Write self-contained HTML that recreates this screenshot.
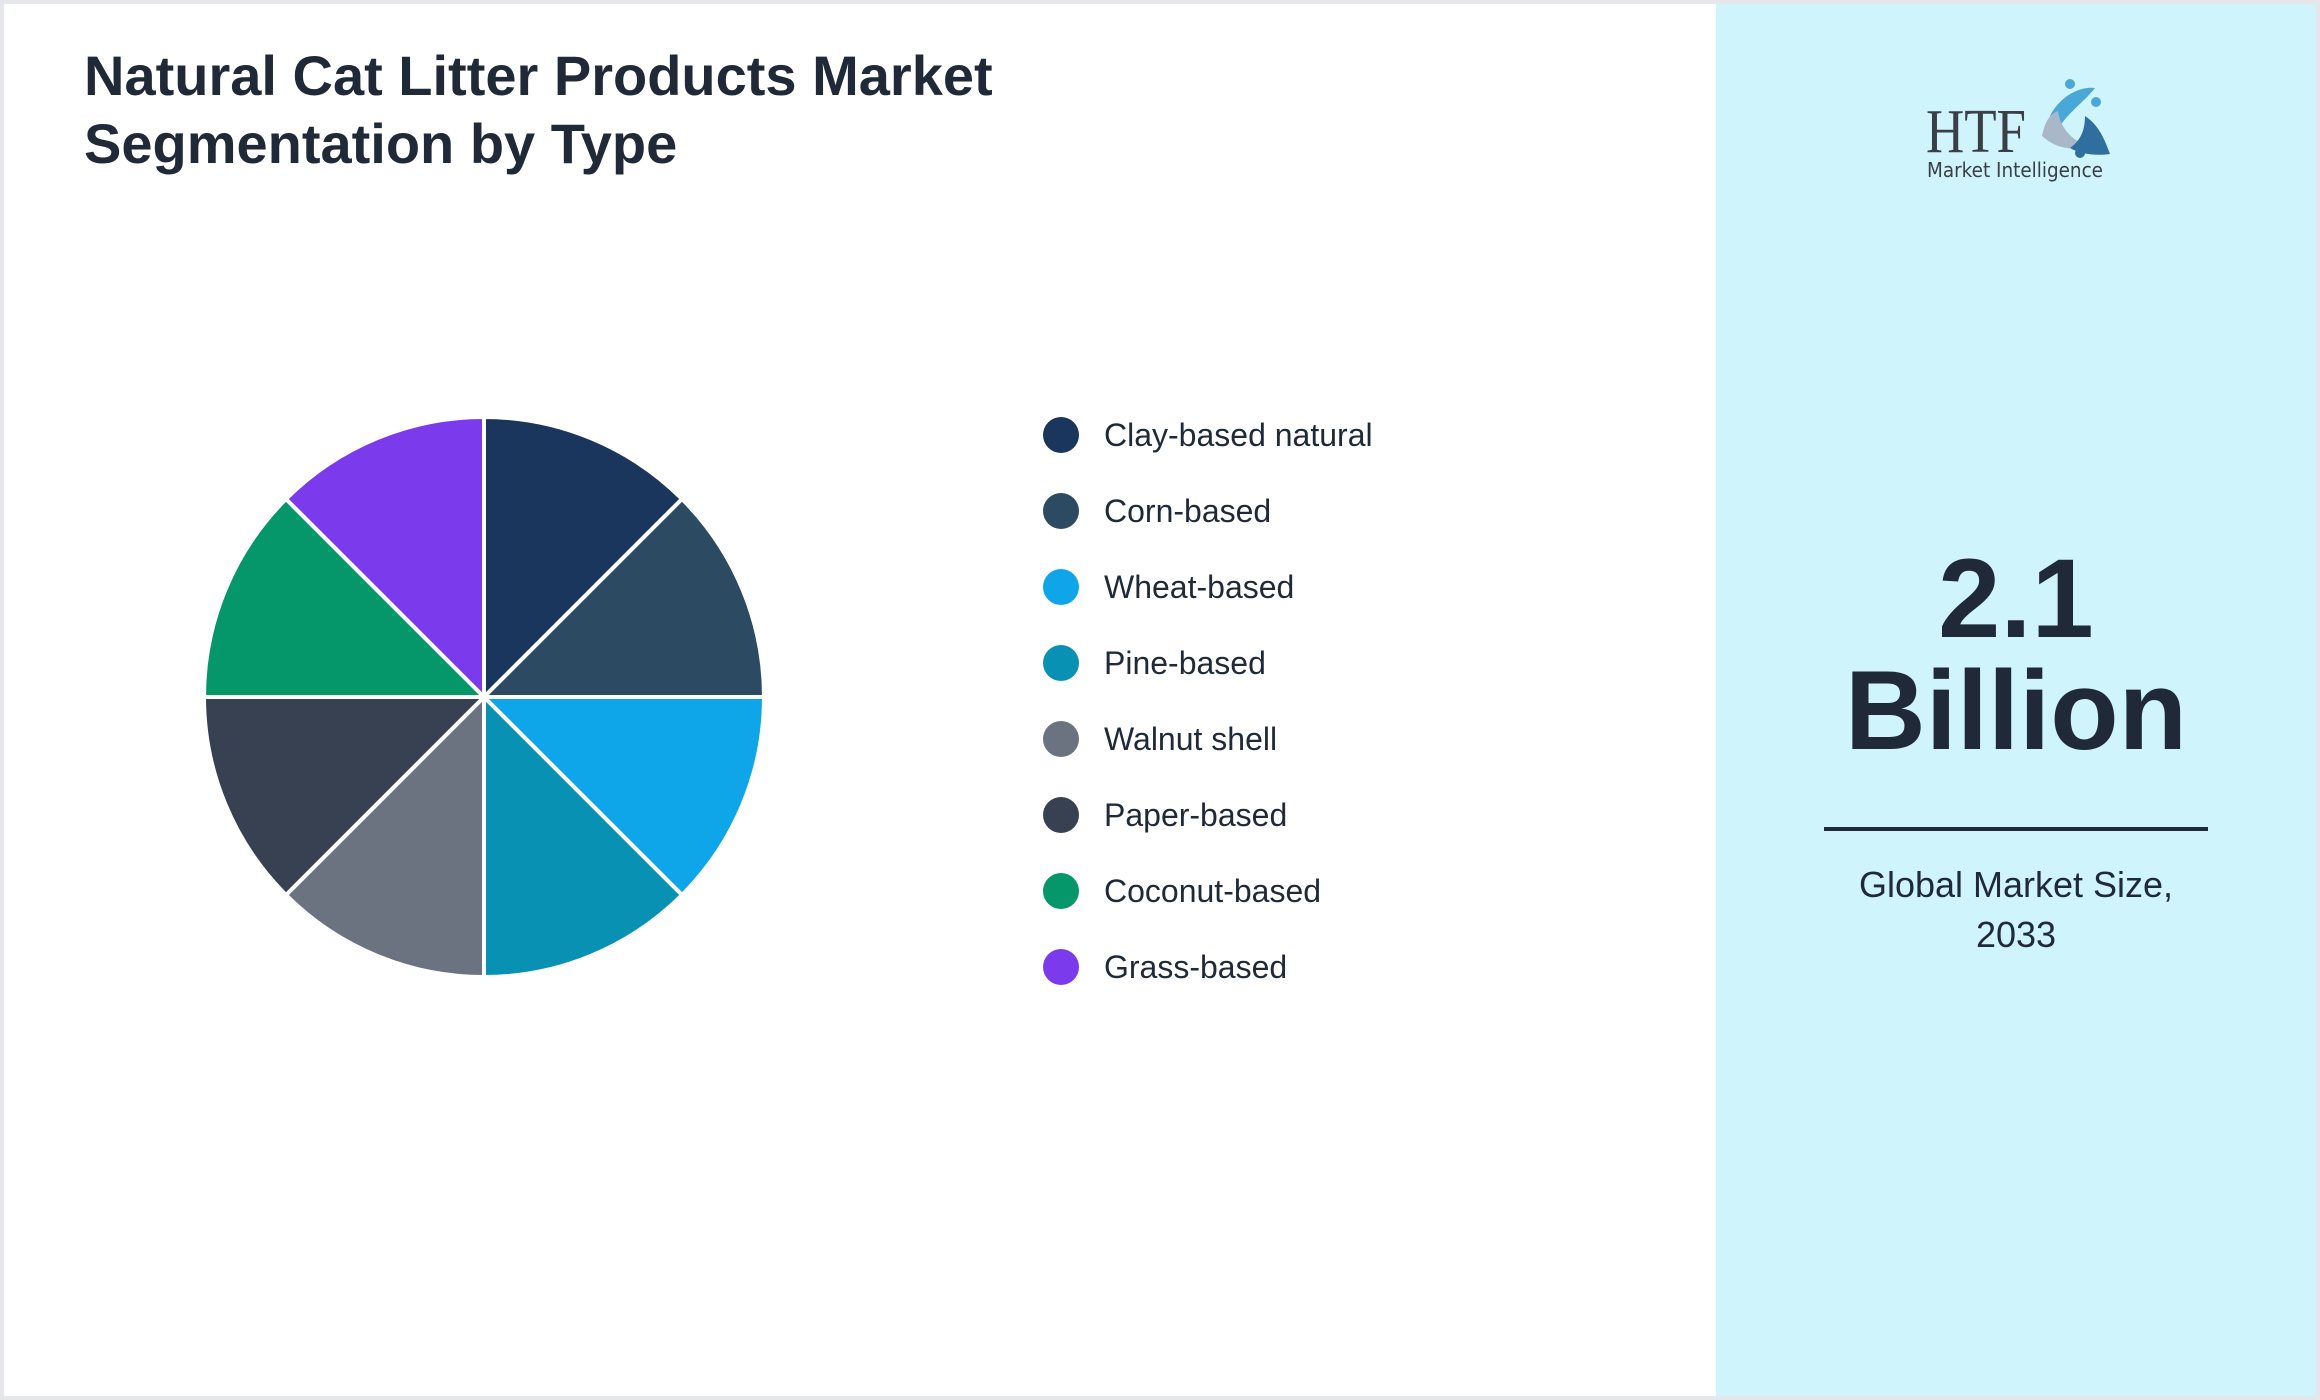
<!DOCTYPE html>
<html><head><meta charset="utf-8"><style>
html,body{margin:0;padding:0}
body{width:2320px;height:1400px;position:relative;background:#fff;font-family:"Liberation Sans",sans-serif;color:#1f2937;overflow:hidden}
.frame{position:absolute;left:0;top:0;width:2312px;height:1392px;border:4px solid #e5e7eb}
.right{position:absolute;left:1716px;top:4px;width:600px;height:1392px;background:#cff4fc}
.title{position:absolute;left:84px;top:42px;font-size:56px;font-weight:bold;line-height:68px;color:#1f2937}
.leg{position:absolute;left:1043px;font-size:32px;height:36px;line-height:36px}
.leg i{position:absolute;left:0;top:0;width:36px;height:36px;border-radius:50%}
.leg span{position:absolute;left:61px;white-space:nowrap}
.big{position:absolute;left:1716px;width:600px;text-align:center;font-weight:bold;font-size:112px;line-height:112px;top:543px}
.line{position:absolute;left:1824px;top:827px;width:384px;height:4px;background:#1f2937}
.sub{position:absolute;left:1716px;width:600px;text-align:center;font-size:36px;line-height:50px;top:860px}
</style></head><body>
<div class="frame"></div>
<div class="right"></div>
<div class="title">Natural Cat Litter Products Market<br>Segmentation by Type</div>
<svg style="position:absolute;left:0;top:0" width="1000" height="1400">
<g transform="translate(484,697)" stroke="#fff" stroke-width="4" stroke-linejoin="round">
<path d="M0 0 L0 -280 A280 280 0 0 1 198 -198Z" fill="#1b365d"/>
<path d="M0 0 L198 -198 A280 280 0 0 1 280 0Z" fill="#2d4a63"/>
<path d="M0 0 L280 0 A280 280 0 0 1 198 198Z" fill="#0ea5e9"/>
<path d="M0 0 L198 198 A280 280 0 0 1 0 280Z" fill="#0891b2"/>
<path d="M0 0 L0 280 A280 280 0 0 1 -198 198Z" fill="#6b7280"/>
<path d="M0 0 L-198 198 A280 280 0 0 1 -280 0Z" fill="#374151"/>
<path d="M0 0 L-280 0 A280 280 0 0 1 -198 -198Z" fill="#059669"/>
<path d="M0 0 L-198 -198 A280 280 0 0 1 0 -280Z" fill="#7c3aed"/>
</g></svg>
<div class="leg" style="top:417px"><i style="background:#1b365d"></i><span>Clay-based natural</span></div>
<div class="leg" style="top:493px"><i style="background:#2d4a63"></i><span>Corn-based</span></div>
<div class="leg" style="top:569px"><i style="background:#0ea5e9"></i><span>Wheat-based</span></div>
<div class="leg" style="top:645px"><i style="background:#0891b2"></i><span>Pine-based</span></div>
<div class="leg" style="top:721px"><i style="background:#6b7280"></i><span>Walnut shell</span></div>
<div class="leg" style="top:797px"><i style="background:#374151"></i><span>Paper-based</span></div>
<div class="leg" style="top:873px"><i style="background:#059669"></i><span>Coconut-based</span></div>
<div class="leg" style="top:949px"><i style="background:#7c3aed"></i><span>Grass-based</span></div>
<svg style="position:absolute;left:1920px;top:76px" width="200" height="110">
<text x="6" y="76" font-family="Liberation Serif,serif" font-size="62" fill="#3a3f47" textLength="100" lengthAdjust="spacingAndGlyphs">HTF</text>
<path d="M130 40 C140 20 160 10 175 12 C165 25 150 35 140 50Z" fill="#4aa8d8"/>
<circle cx="150" cy="8" r="5" fill="#4aa8d8"/><circle cx="176" cy="26" r="5" fill="#4aa8d8"/>
<path d="M122 60 C125 45 130 38 138 35 C140 50 150 65 170 70 C150 75 135 72 122 60Z" fill="#a8b8c8"/>
<path d="M165 40 C180 50 185 65 190 78 C175 80 160 78 150 72 C160 65 165 55 165 40Z" fill="#2f6fa0"/>
<circle cx="160" cy="77" r="5" fill="#2f6fa0"/>
<text x="7" y="101" font-family="DejaVu Sans,sans-serif" font-size="20" fill="#3a3f47" textLength="176" lengthAdjust="spacingAndGlyphs">Market Intelligence</text>
</svg>
<div class="big">2.1<br>Billion</div>
<div class="line"></div>
<div class="sub">Global Market Size,<br>2033</div>
</body></html>
